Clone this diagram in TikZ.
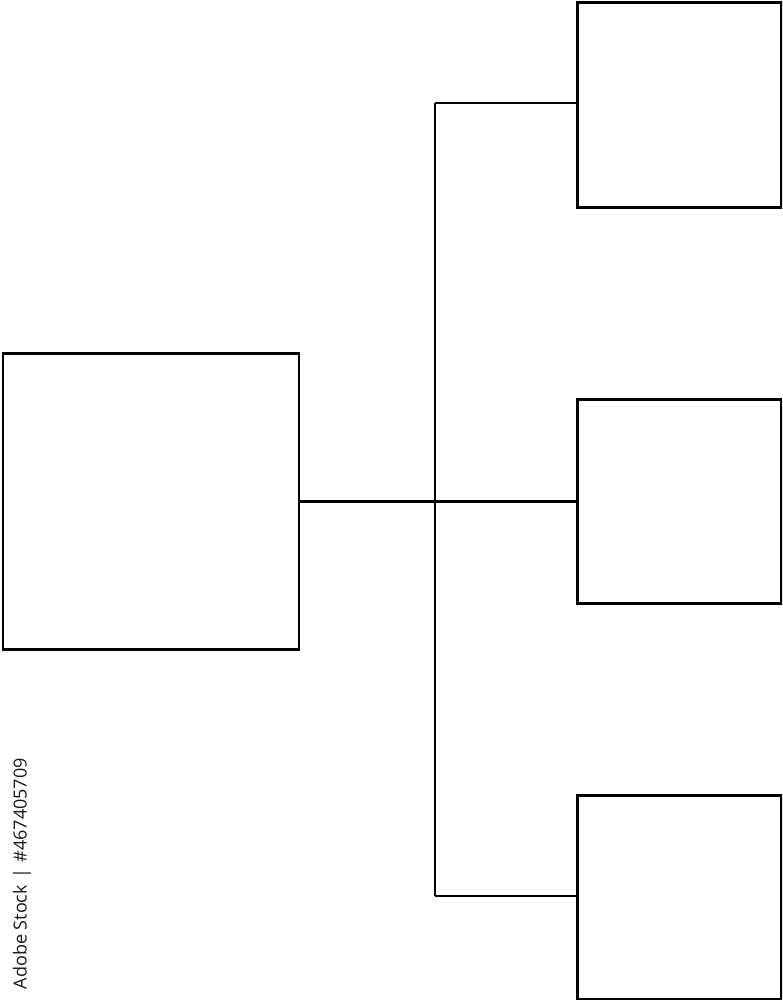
\documentclass[tikz,border=0pt]{standalone}
\usepackage{fontspec}
\newfontfamily\wmfont{Open Sans}
\begin{document}
\begin{tikzpicture}[x=1pt,y=-1pt,
  box/.style={draw=black,line width=2.8pt,fill=white},
  conn/.style={draw=black,line width=2.8pt}]
\useasboundingbox (0,0) rectangle (782,1000);
\clip (0,0) rectangle (782,1000);
\fill[white] (0,0) rectangle (782,1000);
\node[box,minimum width=296pt,minimum height=296pt,anchor=north west,inner sep=0pt] (L) at (1.5,352) {};
\node[box,minimum width=204pt,minimum height=205pt,anchor=north west,inner sep=0pt] (T) at (576,1.5) {};
\node[box,minimum width=204pt,minimum height=204pt,anchor=north west,inner sep=0pt] (M) at (576,398) {};
\node[box,minimum width=204pt,minimum height=204pt,anchor=north west,inner sep=0pt] (B) at (576,794) {};
\coordinate (JT) at (435,103);
\coordinate (JB) at (435,896);
\draw[conn] (L.east) -- (M.west);
\draw[conn] (JT) -- (JB);
\draw[conn] (JT) -- (JT -| T.west);
\draw[conn] (JB) -- (JB -| B.west);
\node[rotate=90,anchor=east,inner sep=0pt,font=\wmfont\fontsize{18}{18}\selectfont,text=black!90] (wm) at (22,758) {Adobe Stock\hspace{0.35em}|\hspace{0.35em}\#467405709};
\end{tikzpicture}
\end{document}
